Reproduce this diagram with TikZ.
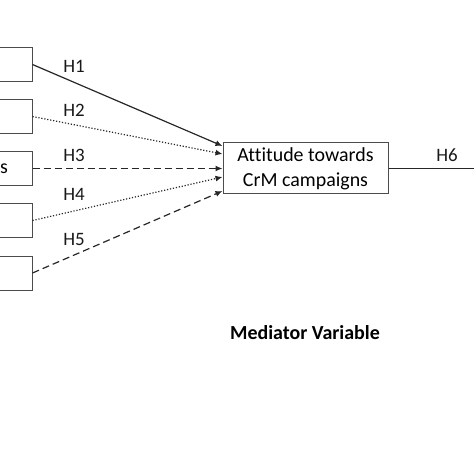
\documentclass[tikz,border=0pt]{standalone}
\usepackage{fontspec}
\setmainfont{Carlito}[Ligatures=NoCommon]
\usetikzlibrary{positioning,arrows.meta,calc}

\begin{document}
\begin{tikzpicture}[
    x=1bp, y=-1bp,
    font=\fontsize{20}{25}\selectfont,
    box/.style={draw, black!70, line width=1bp, text=black, align=center,
                inner sep=0pt},
    ivbox/.style={box, minimum width=120bp, minimum height=34bp},
    medbox/.style={box, minimum width=165bp, minimum height=51bp},
    link/.style={-{Latex[length=7bp, width=6bp]}, black!85, line width=1.2bp},
    dashlink/.style={link, dash pattern=on 7bp off 4bp},
    dotlink/.style={link, dash pattern=on 1.2bp off 1.8bp},
    hyp/.style={font=\fontsize{19}{22}\selectfont, text=black!90},
  ]
  \useasboundingbox (0,0) rectangle (474,474);
  \clip (0,0) rectangle (474,474);

  % --- independent variables (cut off at the left margin) ---
  \node[ivbox] (iv1) at (-28,64.5)  {};
  \node[ivbox] (iv2) at (-28,116.5) {};
  \node[ivbox] (iv3) at (-28,168.5) {};
  \node[ivbox] (iv4) at (-28,220.5) {};
  \node[ivbox] (iv5) at (-28,273)   {};
  \node[anchor=east, inner sep=0pt] (iv3txt) at (8,169) {s};

  % --- mediator ---
  \node[medbox] (med) at (305.5,168.5) {Attitude towards\\CrM campaigns};
  \node[font=\fontsize{20}{24}\selectfont\bfseries] (medlbl) at (305,333)
    {Mediator Variable};

  % --- hypothesised paths ---
  \draw[link]     (iv1.east) -- ([yshift=22.5bp]med.west);
  \draw[dotlink]  (iv2.east) -- ([yshift=14.5bp]med.west);
  \draw[dashlink] (iv3.east) -- (med.west);
  \draw[dotlink]  (iv4.east) -- ([yshift=-8.5bp]med.west);
  \draw[dashlink] (iv5.east) -- ([yshift=-22.5bp]med.west);

  \coordinate (outR) at (480,168.5);
  \draw[black!85, line width=1.2bp] (med.east) -- (outR);

  % --- path labels ---
  \node[hyp] (h1) at (74,66)  {H1};
  \node[hyp] (h2) at (74,110) {H2};
  \node[hyp] (h3) at (74,155) {H3};
  \node[hyp] (h4) at (74,194) {H4};
  \node[hyp] (h5) at (74,239) {H5};
  \node[hyp] (h6) at (447,155) {H6};
\end{tikzpicture}
\end{document}
